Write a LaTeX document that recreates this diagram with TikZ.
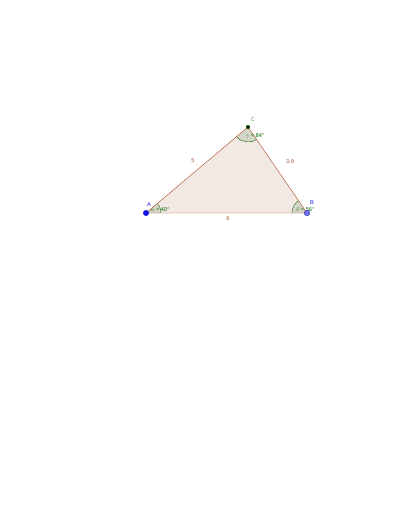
\documentclass[tikz,border=0pt]{standalone}
\usepackage{fontspec}
\setmainfont{Liberation Sans}
\usetikzlibrary{angles,positioning}
\definecolor{edgebrown}{RGB}{170,80,40}
\definecolor{facefill}{RGB}{243,233,228}
\definecolor{anggreen}{RGB}{0,100,0}
\definecolor{ptblue}{RGB}{20,20,230}
\definecolor{ptlight}{RGB}{110,110,240}
\begin{document}
\begin{tikzpicture}[
    x=0.05cm, y=-0.05cm,
    edge/.style={draw=edgebrown, line width=0.6pt},
    sidelabel/.style={text=edgebrown, font=\fontsize{8}{9}\selectfont, inner sep=0pt},
    anglabel/.style={text=anggreen, font=\fontsize{8}{9}\selectfont, inner sep=0pt},
    vertlabel/.style={font=\fontsize{8}{9}\selectfont, inner sep=0pt},
    wedge/.style={draw=anggreen, fill=anggreen, fill opacity=0.12, line width=0.5pt, angle radius=0.75cm}
]
    \useasboundingbox (0,0) rectangle (413,512);
    \coordinate (A) at (146,213);
    \coordinate (B) at (307,213);
    \coordinate (C) at (248,127);

    \fill[facefill] (A) -- (B) -- (C) -- cycle;
    \pic[wedge] {angle = B--A--C};
    \pic[wedge] {angle = C--B--A};
    \pic[wedge] {angle = A--C--B};
    \draw[edge] (A) -- (B) -- (C) -- cycle;

    \node[sidelabel] (sAC) at (193,161) {5};
    \node[sidelabel] (sBC) at (290,162) {3.9};
    \node[sidelabel] (sAB) at (228,219) {6};

    \node[anglabel] (alpha) at (160,210) {$\alpha$ = 40°};
    \node[anglabel] (beta) at (305,210) {$\beta$ = 56°};
    \node[anglabel] (gamma) at (255,136) {$\gamma$ = 84°};

    \fill[ptblue] (A) circle (3);
    \filldraw[fill=ptlight, draw=ptblue!70!black, line width=0.4pt] (B) circle (2.8);
    \fill[anggreen!50!black] (C) circle (2);

    \node[vertlabel, text=ptblue] (labA) at (149,205) {A};
    \node[vertlabel, text=ptblue] (labB) at (312,203) {B};
    \node[vertlabel, text=gray!80!green] (labC) at (253,120) {C};
\end{tikzpicture}
\end{document}
